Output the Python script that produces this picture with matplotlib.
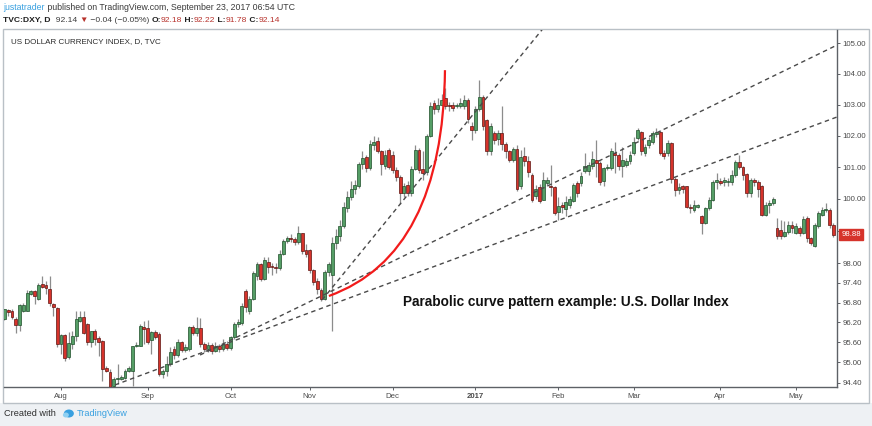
import numpy as np
import pandas as pd
import matplotlib
matplotlib.use("Agg")
import matplotlib.pyplot as plt
from matplotlib.patches import Rectangle, PathPatch, Ellipse
from matplotlib.path import Path
import matplotlib.ticker as mticker

# ---------------- data (DXY daily, Jul 11 2016 .. May 15 2017) ----------------
START_DATE = "2016-07-11"

opens = [96.30, 96.58, 96.55, 96.30, 96.13, 96.55, 96.55, 97.05, 97.15, 96.90,
         97.36, 97.32, 97.20, 96.75, 96.65, 95.55, 95.82, 95.15, 95.55, 95.80,
         96.25, 96.37, 96.15, 95.60, 95.95, 95.72, 95.65, 94.83, 94.72, 94.30,
         94.52, 94.52, 94.55, 94.75, 94.75, 95.48, 95.50, 96.05, 96.02, 95.68,
         95.92, 95.85, 94.65, 94.75, 94.95, 95.40, 95.22, 95.60, 95.38, 95.40,
         96.05, 95.88, 96.02, 95.55, 95.40, 95.52, 95.35, 95.48, 95.40, 95.55,
         95.42, 95.75, 96.15, 96.18, 97.15, 96.55, 96.92, 97.60, 97.98, 97.52,
         98.05, 97.92, 97.90, 97.86, 98.30, 98.70, 98.78, 98.74, 98.65, 98.92,
         98.40, 98.42, 97.78, 97.45, 97.18, 96.92, 97.72, 97.65, 98.62, 98.85,
         99.15, 99.70, 100.05, 100.30, 100.40, 101.10, 101.32, 100.98, 101.72, 101.82,
         101.50, 101.05, 101.55, 101.40, 100.90, 100.70, 100.18, 100.45, 100.20, 100.95,
         101.55, 100.95, 100.85, 102.00, 103.05, 102.85, 103.00, 103.20, 103.00, 103.00,
         102.95, 102.95, 102.95, 103.15, 102.30, 102.20, 102.85, 103.25, 102.50, 101.50,
         102.10, 101.90, 102.10, 101.75, 101.50, 101.22, 101.58, 100.40, 101.36, 101.18,
         100.76, 100.08, 100.36, 99.98, 100.50, 100.42, 100.38, 99.58, 99.82, 99.67,
         99.80, 99.93, 100.50, 100.50, 100.87, 100.87, 101.03, 101.24, 101.13, 100.55,
         100.97, 100.97, 101.45, 101.39, 101.03, 101.08, 101.18, 101.45, 101.92, 102.12,
         101.45, 101.70, 101.81, 102.07, 102.12, 101.45, 101.45, 101.78, 100.61, 100.27,
         100.39, 100.39, 99.76, 99.66, 99.76, 99.45, 99.24, 99.71, 99.97, 100.52,
         100.56, 100.53, 100.53, 100.54, 100.75, 101.16, 101.01, 100.78, 100.18, 100.60,
         100.54, 100.39, 99.50, 99.81, 99.87, 99.09, 99.04, 98.85, 98.98, 99.19,
         98.95, 99.09, 98.93, 99.40, 98.78, 98.52, 99.14, 99.50, 99.64, 99.66,
         99.19]

highs = [96.62, 96.62, 96.60, 96.35, 96.75, 96.80, 97.18, 97.18, 97.18, 97.40,
         97.60, 97.45, 97.60, 96.80, 96.68, 95.85, 95.85, 95.90, 95.95, 96.55,
         96.55, 96.55, 96.17, 95.95, 96.00, 95.80, 95.68, 94.90, 94.80, 94.58,
         94.95, 94.62, 94.80, 94.90, 95.50, 95.60, 96.15, 96.25, 96.28, 95.95,
         95.97, 95.90, 94.80, 95.20, 95.45, 95.50, 95.70, 95.65, 95.55, 96.10,
         96.12, 96.35, 96.33, 95.60, 95.60, 95.58, 95.62, 95.55, 95.70, 95.65,
         95.80, 96.20, 96.30, 96.78, 97.20, 97.00, 97.75, 98.05, 98.02, 98.20,
         98.20, 98.00, 98.00, 98.40, 98.75, 98.85, 98.90, 98.80, 99.15, 98.95,
         98.60, 98.45, 97.82, 97.55, 97.25, 97.80, 98.05, 98.80, 99.05, 99.35,
         99.90, 100.25, 100.55, 100.60, 101.15, 101.50, 101.40, 101.85, 102.00, 101.95,
         101.55, 101.55, 101.60, 101.50, 101.00, 100.75, 100.50, 100.55, 101.05, 101.70,
         101.60, 101.50, 102.05, 103.10, 103.15, 103.20, 103.35, 103.55, 103.10, 103.10,
         103.05, 103.20, 103.30, 103.20, 102.45, 102.95, 103.80, 103.30, 102.55, 102.40,
         102.15, 102.20, 102.95, 101.80, 101.55, 101.65, 101.70, 101.55, 101.65, 101.35,
         100.80, 100.45, 100.48, 100.85, 100.70, 101.08, 100.40, 100.05, 99.90, 100.10,
         100.10, 100.50, 100.55, 100.85, 101.45, 101.15, 101.50, 101.85, 101.20, 101.00,
         101.10, 101.60, 101.80, 101.45, 101.65, 101.30, 101.50, 101.95, 102.25, 102.15,
         101.75, 101.95, 102.15, 102.25, 102.20, 101.55, 101.85, 101.80, 100.70, 100.50,
         100.45, 100.42, 99.85, 99.97, 99.85, 99.50, 99.75, 100.05, 100.58, 100.80,
         100.65, 100.68, 100.65, 100.90, 101.22, 101.37, 101.05, 100.82, 100.65, 100.65,
         100.60, 100.45, 99.90, 99.95, 100.05, 99.40, 99.35, 99.30, 99.30, 99.30,
         99.25, 99.15, 99.45, 99.45, 98.80, 99.25, 99.62, 99.75, 99.87, 99.70,
         99.25]

lows = [96.28, 96.40, 96.30, 95.87, 95.95, 96.52, 96.55, 97.02, 96.75, 96.88,
        97.25, 97.05, 96.70, 96.40, 95.45, 95.25, 95.05, 95.10, 95.40, 95.65,
        96.20, 95.84, 95.52, 95.45, 95.52, 95.20, 94.45, 94.72, 94.20, 94.25,
        94.35, 94.48, 94.50, 94.70, 94.30, 95.45, 95.50, 95.55, 95.55, 95.25,
        95.70, 94.60, 94.55, 94.60, 94.90, 95.10, 95.15, 95.30, 95.30, 95.35,
        95.82, 95.80, 95.45, 95.30, 95.32, 95.25, 95.30, 95.32, 95.35, 95.38,
        95.38, 95.70, 96.05, 96.12, 96.50, 96.45, 96.88, 97.50, 97.45, 97.48,
        97.70, 97.65, 97.70, 97.80, 98.25, 98.62, 98.65, 98.55, 98.60, 98.30,
        98.20, 97.70, 97.35, 97.05, 96.85, 96.88, 97.60, 95.93, 98.45, 98.70,
        99.10, 99.60, 99.95, 100.15, 100.35, 100.95, 100.85, 100.90, 101.55, 101.45,
        100.75, 100.95, 100.95, 100.80, 100.55, 99.85, 100.05, 100.10, 100.10, 100.90,
        100.80, 100.60, 100.75, 101.95, 102.70, 102.75, 102.95, 102.85, 102.80, 102.80,
        102.90, 102.90, 102.85, 102.40, 101.85, 102.10, 102.80, 102.20, 101.40, 101.40,
        101.75, 101.70, 101.55, 101.30, 101.15, 101.15, 100.25, 100.30, 101.05, 100.70,
        99.90, 100.00, 99.88, 99.95, 100.40, 100.08, 99.50, 99.35, 99.55, 99.45,
        99.70, 99.90, 100.05, 100.40, 100.80, 100.75, 100.95, 100.70, 100.45, 100.40,
        100.90, 100.90, 100.80, 100.90, 100.70, 101.00, 101.10, 101.40, 101.85, 101.40,
        101.35, 101.60, 101.75, 101.95, 101.40, 101.25, 101.35, 100.50, 100.10, 100.15,
        100.20, 99.70, 99.55, 99.60, 99.70, 98.90, 99.20, 99.65, 99.92, 100.30,
        100.45, 100.40, 100.42, 100.45, 100.70, 100.95, 100.60, 100.05, 100.05, 100.40,
        100.05, 99.45, 99.45, 99.55, 99.80, 98.75, 98.75, 98.80, 98.90, 98.95,
        98.90, 98.85, 98.90, 98.65, 98.55, 98.50, 99.10, 99.45, 99.58, 99.10,
        98.80]

closes = [96.60, 96.52, 96.35, 96.12, 96.72, 96.72, 97.08, 97.15, 97.00, 97.35,
          97.28, 97.25, 96.80, 96.68, 95.55, 95.82, 95.12, 95.58, 95.80, 96.30,
          96.37, 95.87, 95.60, 95.95, 95.70, 95.60, 94.80, 94.75, 94.25, 94.52,
          94.55, 94.58, 94.75, 94.83, 95.50, 95.52, 96.08, 96.00, 95.60, 95.92,
          95.75, 94.65, 94.75, 94.95, 95.30, 95.22, 95.60, 95.38, 95.45, 96.05,
          95.88, 96.02, 95.55, 95.40, 95.52, 95.35, 95.48, 95.40, 95.55, 95.42,
          95.75, 96.15, 96.20, 96.70, 96.68, 96.92, 97.70, 97.98, 97.52, 98.10,
          97.90, 97.88, 97.86, 98.30, 98.70, 98.78, 98.74, 98.66, 98.94, 98.38,
          98.30, 97.78, 97.44, 97.20, 96.90, 97.72, 97.97, 98.62, 98.85, 99.15,
          99.75, 100.05, 100.30, 100.45, 101.10, 101.30, 100.98, 101.75, 101.80, 101.50,
          101.10, 101.40, 101.00, 100.90, 100.70, 100.20, 100.40, 100.20, 100.95, 101.55,
          100.90, 100.80, 102.00, 102.95, 102.85, 103.00, 103.15, 102.95, 102.95, 102.90,
          103.00, 103.05, 103.15, 102.55, 102.20, 102.85, 103.25, 102.30, 101.50, 102.30,
          101.85, 102.10, 101.75, 101.50, 101.22, 101.58, 100.32, 101.32, 101.18, 100.84,
          99.98, 100.31, 99.93, 100.58, 100.60, 100.38, 99.56, 99.79, 99.75, 99.90,
          100.00, 100.45, 100.19, 100.73, 101.03, 101.08, 101.26, 101.13, 100.52, 100.97,
          101.00, 101.50, 101.39, 101.03, 101.24, 101.18, 101.39, 101.81, 102.18, 101.50,
          101.65, 101.86, 102.09, 102.12, 101.45, 101.34, 101.78, 100.61, 100.29, 100.38,
          100.30, 99.76, 99.71, 99.81, 99.81, 99.24, 99.71, 99.97, 100.54, 100.58,
          100.51, 100.58, 100.56, 100.75, 101.16, 101.01, 100.75, 100.18, 100.60, 100.54,
          100.30, 99.50, 99.81, 99.87, 100.00, 98.83, 98.83, 98.98, 99.19, 99.09,
          99.14, 98.93, 99.37, 98.78, 98.62, 99.19, 99.55, 99.66, 99.68, 99.19,
          98.88]

y_ticks = [94.40, 95.00, 95.60, 96.20, 96.80, 97.40, 98.00, 99.00,
           100.00, 101.00, 102.00, 103.00, 104.00, 105.00]
hidden_tick = 99.00          # covered by the last-price tag in the original
last_price = 98.88

# trend-line / curve anchors: (bar index, price)
trend_lines = [((84.3, 96.88), (144.3, 105.70)),
               ((51.9, 95.22), (220.9, 104.94)),
               ((29.3, 94.33), (220.9, 102.60))]
curve_pts = [(86.1, 97.00), (116.4, 98.26), (116.9, 104.12)]

annotation = "Parabolic curve pattern example: U.S. Dollar Index"

# ---------------- figure ----------------
W, H = 872, 426
fig = plt.figure(figsize=(W / 100, H / 100), dpi=100)
fig.patch.set_facecolor("white")


def fx(px):
    return px / W


def fy(py):
    return 1 - py / H


# bottom grey strip and chart panel
fig.add_artist(Rectangle((0, 0), 1, fy(403), transform=fig.transFigure,
                         facecolor="#eef1f4", edgecolor="none", zorder=0))
fig.add_artist(Rectangle((fx(2.5), fy(402.5)), (869 - 2.5) / W, (402.5 - 28.5) / H,
                         transform=fig.transFigure, facecolor="white",
                         edgecolor="#b9c0c6", lw=1.0, zorder=0.5))

ax = fig.add_axes([fx(4), fy(387), (837 - 4) / W, (387 - 30) / H])
ax.set_facecolor("none")
ax.set_zorder(2)

n = len(closes)
idx = np.arange(n)
o = np.array(opens)
h = np.array(highs)
l = np.array(lows)
c = np.array(closes)
up = c >= o

UP_FACE, UP_EDGE = "#559e66", "#1f4f2a"
DN_FACE, DN_EDGE = "#d6332b", "#5e1612"
WICK = "#8c8c8c"

ax.vlines(idx, l, h, color=WICK, lw=0.9, zorder=3)
body_lo = np.minimum(o, c)
body_h = np.maximum(np.abs(c - o), 0.025)
ax.bar(idx[up], body_h[up], bottom=body_lo[up], width=0.76,
       color=UP_FACE, edgecolor=UP_EDGE, linewidth=0.5, zorder=4)
ax.bar(idx[~up], body_h[~up], bottom=body_lo[~up], width=0.76,
       color=DN_FACE, edgecolor=DN_EDGE, linewidth=0.5, zorder=4)

ax.set_yscale("log")
ax.set_xlim(-0.13, 220.94)
ax.set_ylim(94.27, 105.44)

# trend lines
for (x0, y0), (x1, y1) in trend_lines:
    ax.plot([x0, x1], [y0, y1], color="#4a4a4a", lw=1.0,
            dashes=(3.2, 2.6), zorder=5, solid_capstyle="butt")

# parabolic curve (quadratic bezier)
path = Path(curve_pts, [Path.MOVETO, Path.CURVE3, Path.CURVE3])
ax.add_patch(PathPatch(path, facecolor="none", edgecolor="#f21b1b", lw=1.6, zorder=6))

ax.text(0.479, 0.238, annotation, transform=ax.transAxes, fontsize=9.8,
        fontweight="bold", family="Liberation Sans", color="#111111",
        ha="left", va="center", zorder=7)

# axes styling
for s in ["left", "top"]:
    ax.spines[s].set_visible(False)
for s in ["right", "bottom"]:
    ax.spines[s].set_color("#5d6166")
    ax.spines[s].set_linewidth(1.0)

ax.yaxis.tick_right()
ax.yaxis.set_major_locator(mticker.FixedLocator(y_ticks))
ax.yaxis.set_minor_locator(mticker.NullLocator())
ax.yaxis.set_major_formatter(mticker.FuncFormatter(
    lambda v, p: "" if abs(v - hidden_tick) < 1e-6 else f"{v:.2f}"))
ax.tick_params(axis="y", which="major", length=2.5, width=0.7, color="#5d6166",
               labelsize=5.6, labelcolor="#4a4a4a", pad=1.5)

dates = pd.bdate_range(START_DATE, periods=n)
month_pos, month_lab = [], []
for k in range(1, n):
    if dates[k].month != dates[k - 1].month:
        month_pos.append(k)
        month_lab.append(str(dates[k].year) if dates[k].month == 1 else dates[k].strftime("%b"))
ax.xaxis.set_major_locator(mticker.FixedLocator(month_pos))
ax.xaxis.set_major_formatter(mticker.FixedFormatter(month_lab))
ax.tick_params(axis="x", length=2.5, width=0.7, color="#5d6166",
               labelsize=5.6, labelcolor="#4a4a4a", pad=2)
for t in ax.get_xticklabels():
    if t.get_text().isdigit():
        t.set_fontweight("bold")
for t in ax.get_xticklabels() + ax.get_yticklabels():
    t.set_family("Liberation Sans")

# last-price tag
ax.annotate(f"{last_price:.2f}", xy=(1.0, last_price),
            xycoords=("axes fraction", "data"), xytext=(3, 0),
            textcoords="offset points", ha="left", va="center",
            fontsize=5.6, color="white", family="Liberation Sans", zorder=10,
            annotation_clip=False,
            bbox=dict(boxstyle="square,pad=0.25", fc="#d6332b", ec="#d6332b"))

# chart title inside
fig.text(fx(11), fy(42), "US DOLLAR CURRENCY INDEX, D, TVC", fontsize=5.75,
         family="Liberation Sans", color="#2b2b2b", ha="left", va="center")

# header lines (pieces laid out left to right)
renderer = fig.canvas.get_renderer()


def run(pieces, x_px, y_px, size):
    x = x_px
    for s, col, wt in pieces:
        t = fig.text(fx(x), fy(y_px), s, fontsize=size, color=col, fontweight=wt,
                     family=["Liberation Sans", "DejaVu Sans"], ha="left", va="center")
        x += t.get_window_extent(renderer).width
    return x


DARK = "#3b3b3b"
RED = "#b7322c"
BLUE = "#38a0e0"
run([("justatrader", BLUE, "normal"),
     (" published on TradingView.com, September 23, 2017 06:54 UTC", DARK, "normal")],
    3, 7, 6.3)
run([("TVC:DXY, D", "#1f1f1f", "bold"), ("  92.14 ", DARK, "normal"),
     ("▼", RED, "normal"), (" \u22120.04 (\u22120.05%) ", DARK, "normal"),
     ("O:", "#1f1f1f", "bold"), ("92.18", RED, "normal"),
     (" H:", "#1f1f1f", "bold"), ("92.22", RED, "normal"),
     (" L:", "#1f1f1f", "bold"), ("91.78", RED, "normal"),
     (" C:", "#1f1f1f", "bold"), ("92.14", RED, "normal")],
    3, 20, 6.1)

# footer
xe = run([("Created with", "#2e2e2e", "normal")], 4, 413.5, 6.6)
lx = xe + 7
fig.add_artist(Ellipse((fx(lx + 6), fy(413.5)), 10 / W, 8 / H, transform=fig.transFigure,
                       facecolor=BLUE, edgecolor="none", zorder=3))
fig.add_artist(Ellipse((fx(lx + 3), fy(415)), 6 / W, 5 / H, transform=fig.transFigure,
                       facecolor="#8fd0f2", edgecolor="none", zorder=4))
run([("TradingView", BLUE, "normal")], lx + 14, 413.5, 6.6)

fig.savefig("out.png", dpi=100, facecolor=fig.get_facecolor())
